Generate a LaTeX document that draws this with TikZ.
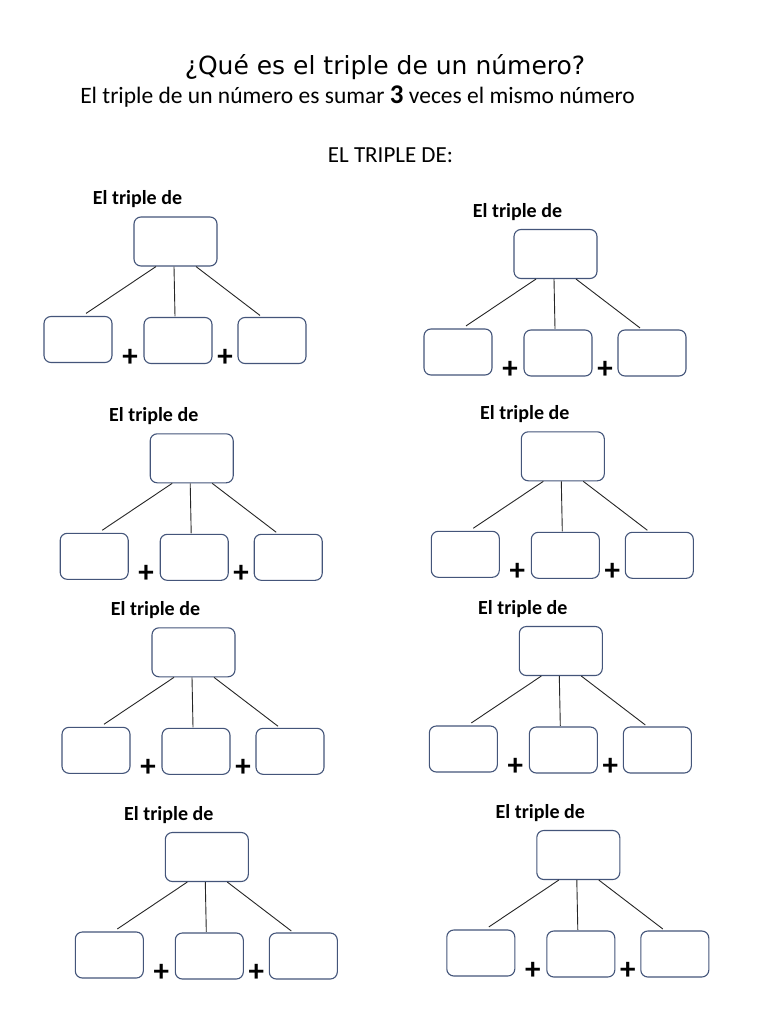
\documentclass[tikz,border=0pt]{standalone}
\usepackage{fontspec}
\setmainfont{Carlito}
\newfontfamily\titlefont{DejaVu Sans}
\definecolor{boxc}{HTML}{44557A}
\begin{document}
\begin{tikzpicture}[x=1pt,y=-1pt,
  topbox/.style={draw=boxc, line width=1.1pt, rounded corners=7pt, minimum width=83pt, minimum height=49pt, inner sep=0pt},
  botbox/.style={draw=boxc, line width=1.1pt, rounded corners=7pt, minimum width=68pt, minimum height=46pt, inner sep=0pt},
  link/.style={draw=black!85, line width=0.9pt},
  lbl/.style={font=\bfseries\fontsize{20}{24}\selectfont, inner sep=0pt},
  plussign/.style={font=\bfseries\fontsize{31}{32}\selectfont, inner sep=0pt}]
\useasboundingbox[fill=white] (0,0) rectangle (768,1024);
\node[font=\titlefont\fontsize{25}{30}\selectfont, inner sep=0pt] (title) at (385,67) {¿Qué es el triple de un número?};
\node[font=\fontsize{23.5}{28}\selectfont, inner sep=0pt] (sub) at (357.5,97) {El triple de un número es sumar {\bfseries\fontsize{27}{28}\selectfont 3} veces el mismo número};
\node[font=\fontsize{23}{28}\selectfont, inner sep=0pt] (head) at (390.5,155) {EL TRIPLE DE:};
\foreach \n/\cx/\cy in {1/175.5/241.5, 2/555.5/254, 3/191.7/458.3, 4/562.8/456.3, 5/193.5/652.3, 6/560.8/651, 7/206.8/857, 8/578.3/855}{
  \begin{scope}[shift={(\cx,\cy)}]
    \node[topbox] (t\n) at (0,0) {};
    \node[lbl] (l\n) at (-38,-42) {El triple de};
    \node[botbox] (a\n) at (-97.5,98) {};
    \node[botbox] (b\n) at (2.5,99) {};
    \node[botbox] (c\n) at (96.5,99) {};
    \draw[link] ([xshift=-19.5pt]t\n.south) -- ([xshift=8pt,yshift=2.5pt]a\n.north);
    \draw[link] ([xshift=-1.5pt]t\n.south) -- ([xshift=-3pt,yshift=0.5pt]b\n.north);
    \draw[link] ([xshift=20.5pt]t\n.south) -- ([xshift=-12pt,yshift=1.5pt]c\n.north);
    \node[plussign] (p\n) at (-45.5,116) {+};
    \node[plussign] (q\n) at (49.5,116) {+};
  \end{scope}
}
\end{tikzpicture}
\end{document}
